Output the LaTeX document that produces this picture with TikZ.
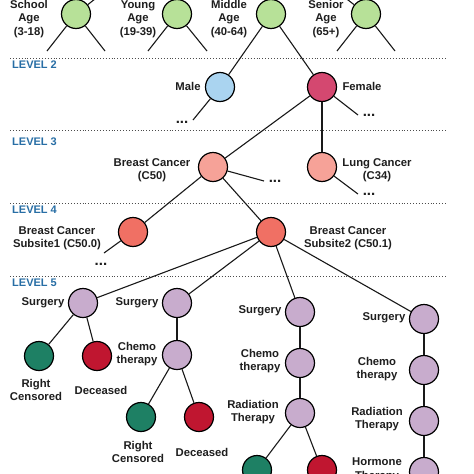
\documentclass[tikz,border=0pt]{standalone}
\usepackage{fontspec}
\setmainfont{Liberation Sans}
\definecolor{cgreen}{RGB}{183,225,152}
\definecolor{cblue}{RGB}{170,212,240}
\definecolor{cfemale}{RGB}{212,72,112}
\definecolor{csalmon}{RGB}{246,162,152}
\definecolor{csub}{RGB}{240,112,100}
\definecolor{cpurple}{RGB}{200,172,205}
\definecolor{crc}{RGB}{30,128,100}
\definecolor{cdec}{RGB}{192,22,48}
\definecolor{clevel}{RGB}{40,110,165}
\definecolor{ctext}{RGB}{30,30,30}
\begin{document}
\begin{tikzpicture}[x=1pt,y=-1pt,
  circ/.style={circle,draw=black,line width=1.2pt,minimum size=29pt,inner sep=0pt},
  lbl/.style={align=center,inner sep=0pt,text=ctext,font=\fontsize{11.3}{13.5}\selectfont\bfseries},
  dots/.style={inner sep=0pt,anchor=base,text=ctext,font=\fontsize{15}{15}\selectfont\bfseries},
  lvl/.style={anchor=west,inner sep=0pt,text=clevel,font=\fontsize{11}{12}\selectfont\bfseries},
  edge/.style={draw=black!90,line width=1.1pt},
  sep/.style={draw=black!70,line width=0.9pt,dotted}]
\useasboundingbox (0,0) rectangle (474,474);
\fill[white] (0,0) rectangle (474,474);
% separators
\foreach \yy in {58,130,203,276} \draw[sep] (10,\yy) -- (446,\yy);
\node[lvl] (l2) at (12,65) {LEVEL 2};
\node[lvl] (l3) at (12,142) {LEVEL 3};
\node[lvl] (l4) at (12,210) {LEVEL 4};
\node[lvl] (l5) at (12,283) {LEVEL 5};
% level 1
\coordinate (p0) at (220,-100);
\node[circ,fill=cgreen] (sch) at (76,14) {};
\node[circ,fill=cgreen] (yng) at (177,14) {};
\node[circ,fill=cgreen] (mid) at (271,14) {};
\node[circ,fill=cgreen] (sen) at (366,14) {};
\foreach \n in {sch,yng,mid,sen} \draw[edge] (\n) -- (p0);
\node[lbl] (tsch) at (29,19) {School\\Age\\(3-18)};
\node[lbl] (tyng) at (138,19) {Young\\Age\\(19-39)};
\node[lbl] (tmid) at (229,19) {Middle\\Age\\(40-64)};
\node[lbl] (tsen) at (326,19) {Senior\\Age\\(65+)};
\coordinate (a1) at (47,51); \coordinate (a2) at (105,51);
\coordinate (a3) at (148,51); \coordinate (a4) at (207,51);
\coordinate (a5) at (337,51); \coordinate (a6) at (395,51);
\draw[edge] (sch) -- (a1); \draw[edge] (sch) -- (a2);
\draw[edge] (yng) -- (a3); \draw[edge] (yng) -- (a4);
\draw[edge] (sen) -- (a5); \draw[edge] (sen) -- (a6);
% level 2
\node[circ,fill=cblue] (male) at (220,87) {};
\node[circ,fill=cfemale] (fem) at (322,87) {};
\draw[edge] (mid) -- (male); \draw[edge] (mid) -- (fem);
\node[lbl] (tmale) at (188,86) {Male};
\node[lbl] (tfem) at (362,86) {Female};
\coordinate (m1) at (193,120); \node[dots] (dm) at (182,123) {...};
\coordinate (f1) at (358,115); \node[dots] (df) at (369,116) {...};
\draw[edge] (male) -- (m1); \draw[edge] (fem) -- (f1);
% level 3
\node[circ,fill=csalmon] (bc) at (213,167) {};
\node[circ,fill=csalmon] (lc) at (322,167) {};
\draw[edge] (fem) -- (bc); \draw[edge] (fem) -- (lc);
\node[lbl] (tbc) at (152,170) {Breast Cancer\\(C50)};
\node[lbl] (tlc) at (377,170) {Lung Cancer\\(C34)};
\coordinate (b1) at (264,181); \node[dots] (db) at (275,182) {...};
\coordinate (c1) at (358,194); \node[dots] (dl) at (369,195) {...};
\draw[edge] (bc) -- (b1); \draw[edge] (lc) -- (c1);
% level 4
\node[circ,fill=csub] (s1) at (133,232) {};
\node[circ,fill=csub] (s2) at (271,232) {};
\draw[edge] (bc) -- (s1); \draw[edge] (bc) -- (s2);
\node[lbl] (ts1) at (57,238) {Breast Cancer\\Subsite1 (C50.0)};
\node[lbl] (ts2) at (348,238) {Breast Cancer\\Subsite2 (C50.1)};
\coordinate (e1) at (104,253); \node[dots] (ds) at (101,265) {...};
\draw[edge] (s1) -- (e1);
% level 5, branch A
\node[circ,fill=cpurple] (suA) at (83,303) {};
\node[circ,fill=crc] (rcA) at (39,356) {};
\node[circ,fill=cdec] (deA) at (97,356) {};
\draw[edge] (s2) -- (suA);
\draw[edge] (suA) -- (rcA); \draw[edge] (suA) -- (deA);
\node[lbl] (tsuA) at (43,303) {Surgery};
\node[lbl] (trcA) at (36,390) {Right\\Censored};
\node[lbl] (tdeA) at (101,390) {Deceased};
% branch B
\node[circ,fill=cpurple] (suB) at (177,303) {};
\node[circ,fill=cpurple] (chB) at (177,355) {};
\node[circ,fill=crc] (rcB) at (141,417) {};
\node[circ,fill=cdec] (deB) at (199,417) {};
\draw[edge] (s2) -- (suB); \draw[edge] (suB) -- (chB);
\draw[edge] (chB) -- (rcB); \draw[edge] (chB) -- (deB);
\node[lbl] (tsuB) at (137,303) {Surgery};
\node[lbl] (tchB) at (137,354) {Chemo\\therapy};
\node[lbl] (trcB) at (138,452) {Right\\Censored};
\node[lbl] (tdeB) at (202,452) {Deceased};
% branch C
\node[circ,fill=cpurple] (suC) at (300,312) {};
\node[circ,fill=cpurple] (chC) at (300,363) {};
\node[circ,fill=cpurple] (raC) at (300,413) {};
\node[circ,fill=crc] (gC) at (257,470) {};
\node[circ,fill=cdec] (rC) at (322,470) {};
\draw[edge] (s2) -- (suC); \draw[edge] (suC) -- (chC); \draw[edge] (chC) -- (raC);
\draw[edge] (raC) -- (gC); \draw[edge] (raC) -- (rC);
\node[lbl] (tsuC) at (260,311) {Surgery};
\node[lbl] (tchC) at (260,361) {Chemo\\therapy};
\node[lbl] (traC) at (253,412) {Radiation\\Therapy};
% branch D
\node[circ,fill=cpurple] (suD) at (424,319) {};
\node[circ,fill=cpurple] (chD) at (424,370) {};
\node[circ,fill=cpurple] (raD) at (424,421) {};
\node[circ,fill=cpurple] (hoD) at (424,472) {};
\draw[edge] (s2) -- (suD); \draw[edge] (suD) -- (chD); \draw[edge] (chD) -- (raD); \draw[edge] (raD) -- (hoD);
\node[lbl] (tsuD) at (384,318) {Surgery};
\node[lbl] (tchD) at (377,369) {Chemo\\therapy};
\node[lbl] (traD) at (377,419) {Radiation\\Therapy};
\node[lbl] (thoD) at (377,470) {Hormone\\Therapy};
\end{tikzpicture}
\end{document}
